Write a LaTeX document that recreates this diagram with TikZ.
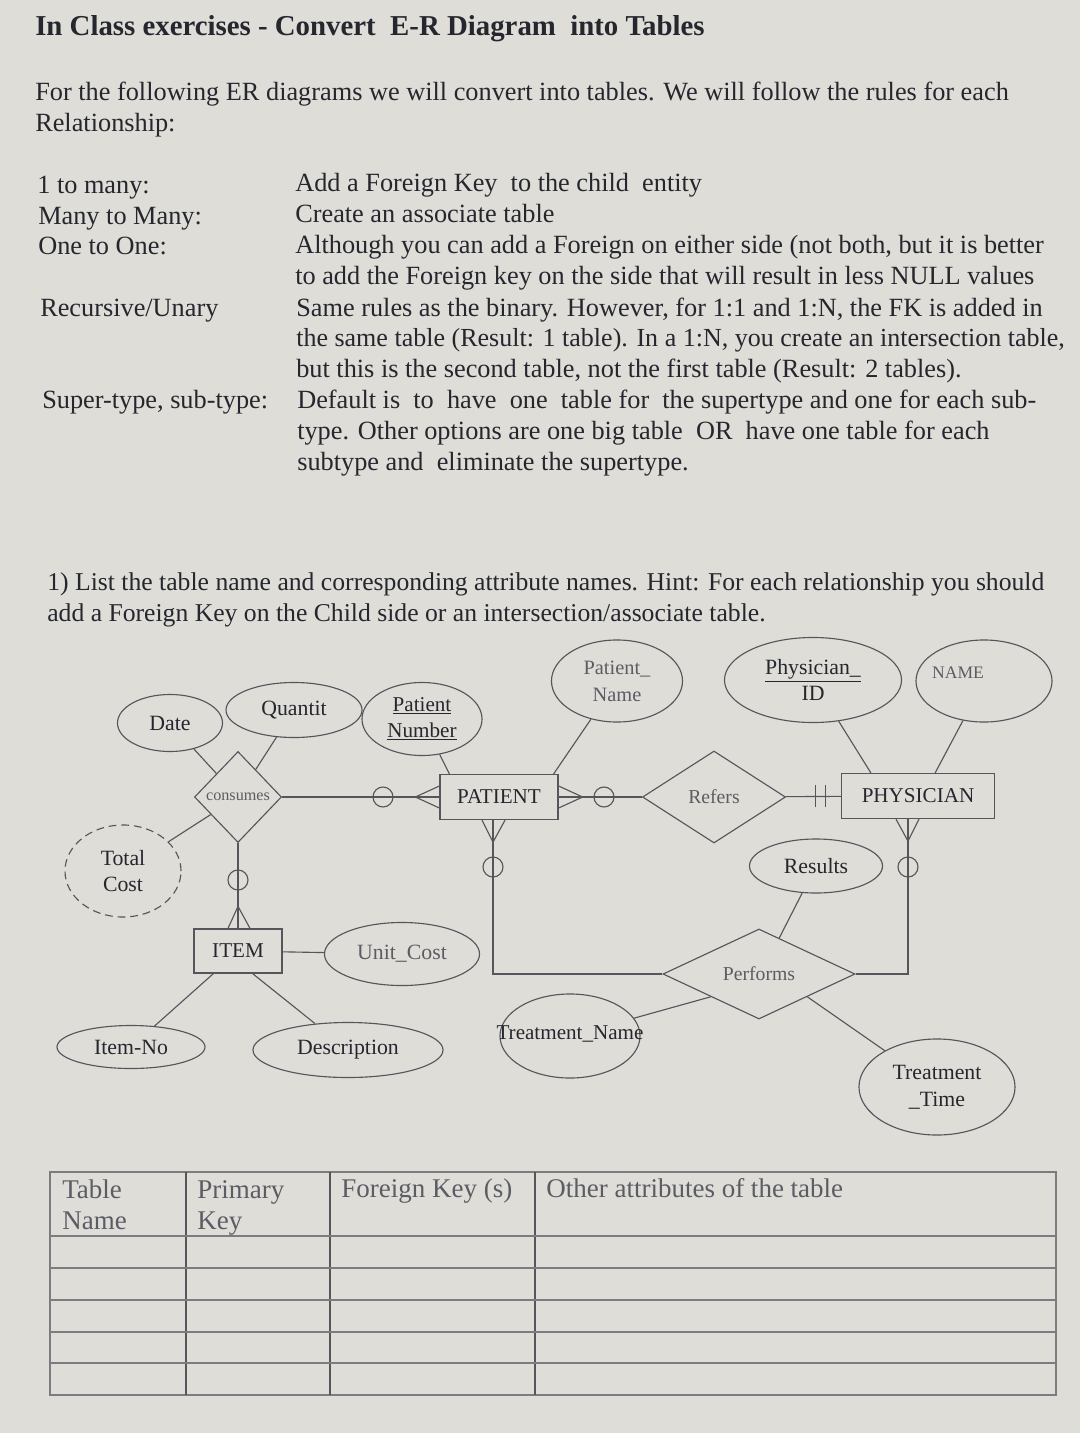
\documentclass[tikz,border=0pt]{standalone}
\usepackage{fontspec}
\setmainfont{Liberation Serif}
\usetikzlibrary{shapes.geometric,positioning}
\definecolor{paper}{HTML}{DEDDD8}
\definecolor{ink}{HTML}{26262E}
\definecolor{muted}{HTML}{5C5C64}
\definecolor{line}{HTML}{55555C}
\definecolor{gridgray}{HTML}{7C7C80}

\begin{document}
\begin{tikzpicture}[x=0.025cm,y=-0.025cm,
  txt/.style={anchor=base west,inner sep=0pt,text=ink,font=\fontsize{18.7}{22}\selectfont},
  hdr/.style={txt,text=muted,font=\fontsize{19.2}{22}\selectfont},
  attr/.style={ellipse,draw=line,line width=.8pt,inner sep=0pt,align=center,text=ink,
    font=\fontsize{15.5}{19}\selectfont},
  entity/.style={rectangle,draw=line,line width=.9pt,inner sep=0pt,text=ink,
    font=\fontsize{15}{18}\selectfont},
  rel/.style={diamond,draw=line,line width=.8pt,inner sep=0pt,text=muted,
    font=\fontsize{14}{17}\selectfont},
  optc/.style={circle,draw=line,line width=.8pt,minimum size=.5cm,inner sep=0pt},
  conn/.style={draw=line,line width=.8pt}
]
\fill[paper] (0,0) rectangle (1080,1433);

% heading and rules
\node[txt,font=\fontsize{20.5}{24}\selectfont\bfseries] (title) at (35,36)
  {In Class exercises - Convert\ \ E-R Diagram\ \ into Tables};
\node[txt] (intro1) at (35,100) {For the following ER diagrams we will convert into tables. We will follow the rules for each};
\node[txt] (intro2) at (35,131) {Relationship:};

\node[txt] (kind1) at (37,193) {1 to many:};
\node[txt] (kind2) at (38,224) {Many to Many:};
\node[txt] (kind3) at (38,254) {One to One:};
\node[txt] (kind4) at (40,316) {Recursive/Unary};
\node[txt] (kind5) at (42,408) {Super-type, sub-type:};

\node[txt] (rule1) at (295,191) {Add a Foreign Key\ \ to the child\ \ entity};
\node[txt] (rule2) at (295,222) {Create an associate table};
\node[txt] (rule3) at (295,253) {Although you can add a Foreign on either side (not both, but it is better};
\node[txt] (rule4) at (295,284) {to add the Foreign key on the side that will result in less NULL values};
\node[txt] (rule5) at (296,316) {Same rules as the binary. However, for 1:1 and 1:N, the FK is added in};
\node[txt,font=\fontsize{18.5}{22}\selectfont] (rule6) at (296,346) {the same table (Result: 1 table). In a 1:N, you create an intersection table,};
\node[txt] (rule7) at (296,377) {but this is the second table, not the first table (Result: 2 tables).};
\node[txt] (rule8) at (297,408) {Default is\ \ to\ \ have\ \ one\ \ table for\ \ the supertype and one for each sub-};
\node[txt] (rule9) at (297,439) {type. Other options are one big table\ \ OR\ \ have one table for each};
\node[txt] (rule10) at (297,470) {subtype and\ \ eliminate the supertype.};

\node[txt,font=\fontsize{18.25}{22}\selectfont] (task1) at (47,590) {1) List the table name and corresponding attribute names. Hint: For each relationship you should};
\node[txt,font=\fontsize{18.25}{22}\selectfont] (task2) at (47,621) {add a Foreign Key on the Child side or an intersection/associate table.};

% entities and relationships
\node[entity,minimum width=2.95cm,minimum height=1.125cm] (patient) at (499,797) {PATIENT};
\node[entity,minimum width=3.825cm,minimum height=1.125cm] (physician) at (918,796) {PHYSICIAN};
\node[entity,minimum width=2.2cm,minimum height=1.1cm] (item) at (238,951) {ITEM};
\node[rel,minimum width=2.175cm,minimum height=2.275cm,font=\fontsize{11.5}{14}\selectfont] (cons) at (238,797) {consumes};
\node[rel,minimum width=3.575cm,minimum height=2.3cm] (refers) at (714,797) {Refers};
\node[rel,minimum width=4.8cm,minimum height=2.25cm] (perf) at (759,974) {Performs};

% attributes
\node[attr,minimum width=2.625cm,minimum height=1.425cm] (date) at (170,723) {Date};
\node[attr,minimum width=3.4cm,minimum height=1.375cm] (quant) at (294,710) {Quantit};
\node[attr,minimum width=3cm,minimum height=1.825cm,font=\fontsize{15}{18.5}\selectfont] (pnum) at (422,719)
  {\underline{Patient}\\\underline{Number}};
\node[attr,minimum width=2.9cm,minimum height=2.3cm,dashed,dash pattern=on 5.5pt off 3.5pt] (tcost) at (123,871)
  {Total\\Cost};
\node[attr,minimum width=3.275cm,minimum height=2.05cm,text=muted,font=\fontsize{14.5}{19}\selectfont] (pname) at (617,681)
  {Patient\_\\Name};
\node[attr,minimum width=4.425cm,minimum height=2.125cm] (phid) at (813,680) {\underline{Physician\_}\\ID};
\node[attr,minimum width=3.4cm,minimum height=2.05cm] (dname) at (984,681) {};
\node[inner sep=0pt,text=muted,font=\fontsize{12.5}{15}\selectfont] (dnamelbl) at (958,673) {NAME};
\node[attr,minimum width=3.325cm,minimum height=1.35cm] (results) at (816,866) {Results};
\node[attr,minimum width=3.875cm,minimum height=1.575cm,text=muted] (ucost) at (402,954) {Unit\_Cost};
\node[attr,minimum width=3.7cm,minimum height=1.075cm] (itemno) at (131,1047) {Item-No};
\node[attr,minimum width=4.75cm,minimum height=1.375cm] (desc) at (348,1050) {Description};
\node[attr,minimum width=3.5cm,minimum height=2.1cm] (tname) at (570,1036) {};
\node[inner sep=0pt,text=ink,font=\fontsize{15}{18}\selectfont] (tnamelbl) at (570,1034) {Treatment\_Name};
\node[attr,minimum width=3.9cm,minimum height=2.4cm] (ttime) at (937,1087) {Treatment\\\_Time};

% attribute links
\draw[conn] (date) -- (cons);
\draw[conn] (quant) -- (cons);
\draw[conn] (cons) -- (tcost);
\draw[conn] (pnum) -- ([shift={(10,0)}]patient.north west);
\draw[conn] (pname) -- ([shift={(-5,0)}]patient.north east);
\draw[conn] (phid) -- ([shift={(30,0)}]physician.north west);
\draw[conn] (dname) -- ([shift={(-60,0)}]physician.north east);
\draw[conn] (results) -- ([shift={(20,10)}]perf.north);
\draw[conn] (perf.south west) -- (tname);
\draw[conn] (perf.south east) -- (ttime);
\draw[conn] (item) -- (ucost);
\draw[conn] ([shift={(20,0)}]item.south west) -- (itemno);
\draw[conn] ([shift={(-30,0)}]item.south east) -- (desc);

% relationship links with cardinalities
\draw[conn] (cons) -- (patient);
\node[optc] (copt) at (383,797) {};
\draw[conn] ([shift={(0,-11)}]patient.west) -- ([shift={(-24,0)}]patient.west) -- ([shift={(0,11)}]patient.west);

\draw[conn] (cons) -- (item);
\node[optc] (iopt) at (238,880) {};
\draw[conn] ([shift={(-10,0)}]item.north) -- ([shift={(0,-22)}]item.north) -- ([shift={(12,0)}]item.north);

\draw[conn] (patient) -- (refers);
\node[optc] (ropt) at (604,797) {};
\draw[conn] ([shift={(0,-11)}]patient.east) -- ([shift={(24,0)}]patient.east) -- ([shift={(0,11)}]patient.east);

\draw[conn] (refers) -- (physician);
\draw[conn] ([shift={(-25,-11)}]physician.west) -- ++(0,22);
\draw[conn] ([shift={(-15,-11)}]physician.west) -- ++(0,22);

\draw[conn] ([shift={(-6,0)}]patient.south) |- (perf.west);
\node[optc] (popt) at (493,867) {};
\draw[conn] ([shift={(-17,0)}]patient.south) -- ([shift={(-6,22)}]patient.south) -- ([shift={(6,0)}]patient.south);

\draw[conn] ([shift={(-10,0)}]physician.south) |- (perf.east);
\node[optc] (hopt) at (908,867) {};
\draw[conn] ([shift={(-22,0)}]physician.south) -- ([shift={(-10,22)}]physician.south) -- ([shift={(1,0)}]physician.south);

% answer table
\draw[gridgray,line width=1.2pt] (50,1172) rectangle (1056,1395);
\draw[draw=line,line width=.8pt] (186,1172) -- (186,1395) (330,1172) -- (330,1395) (535,1172) -- (535,1395);
\draw[gridgray,line width=1.4pt] (50,1236) -- (1056,1236) (50,1268) -- (1056,1268) (50,1300) -- (1056,1300)
  (50,1332) -- (1056,1332) (50,1363) -- (1056,1363);
\node[hdr] (colname1) at (62,1198) {Table};
\node[hdr] (colname2) at (62,1229) {Name};
\node[hdr] (colkey1) at (197,1198) {Primary};
\node[hdr] (colkey2) at (197,1229) {Key};
\node[hdr] (colfk) at (341,1197) {Foreign Key (s)};
\node[hdr] (colother) at (546,1197) {Other attributes of the table};
\end{tikzpicture}
\end{document}
